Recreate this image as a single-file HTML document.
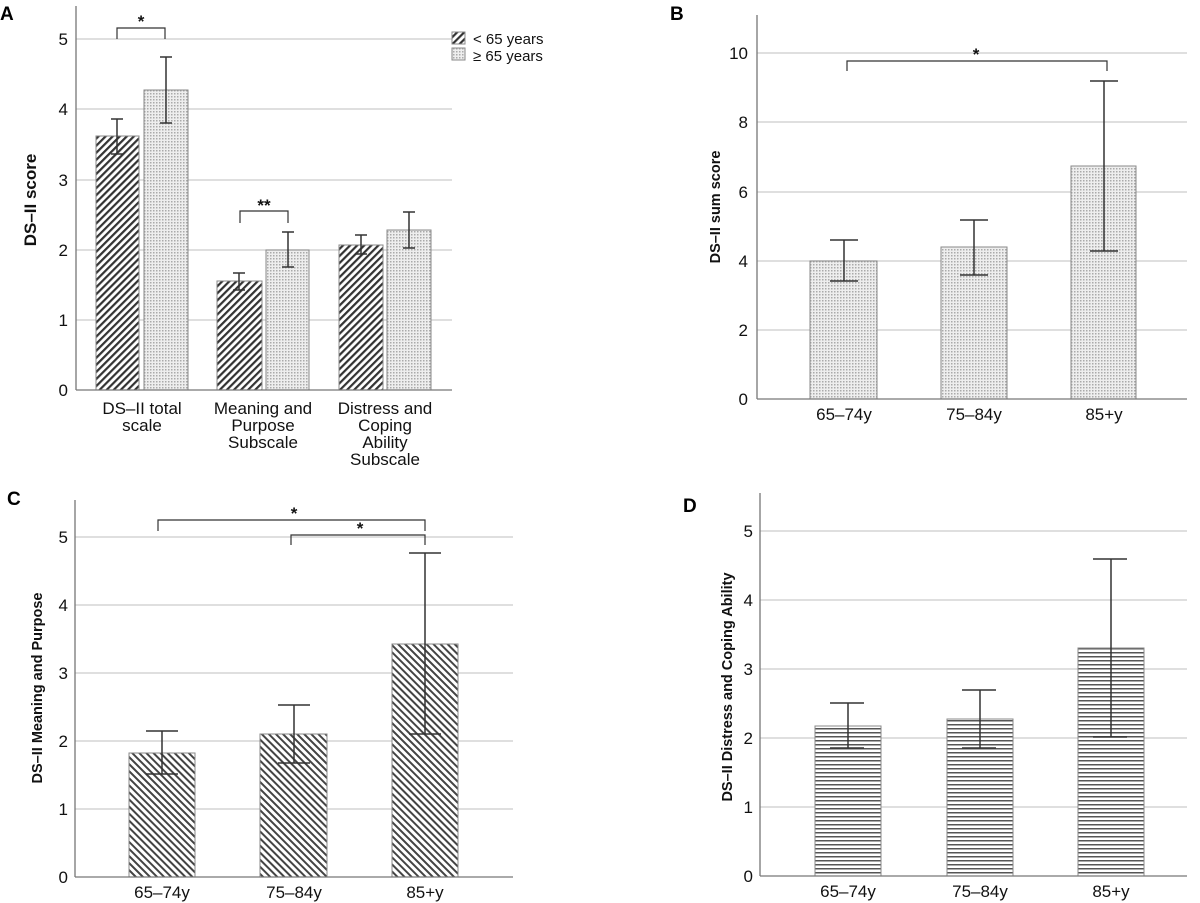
<!DOCTYPE html>
<html><head><meta charset="utf-8"><style>
body{margin:0;background:#fff}
svg{display:block;font-family:"Liberation Sans",sans-serif}
.t{font-size:17px;fill:#111}
.g{stroke:#ccc;stroke-width:1.2}
.ax{stroke:#777;stroke-width:1.3;fill:none}
.e{stroke:#333;stroke-width:1.5;fill:none}
.bar{stroke:#888;stroke-width:1}
.pl{font-weight:bold;font-size:19px;fill:#000}
.yt{font-weight:bold;font-size:14.5px;fill:#111}
</style></head><body>
<svg width="1200" height="903" viewBox="0 0 1200 903">
<defs>
<pattern id="dot" width="3" height="3" patternUnits="userSpaceOnUse"><rect width="3" height="3" fill="#eee"/><rect width="1.5" height="1.5" fill="#aaa"/></pattern>
<pattern id="fw" width="5" height="5" patternUnits="userSpaceOnUse" patternTransform="rotate(45)"><rect width="5" height="5" fill="#fff"/><rect width="2.2" height="5" fill="#333"/></pattern>
<pattern id="bw" width="5" height="5" patternUnits="userSpaceOnUse" patternTransform="rotate(-45)"><rect width="5" height="5" fill="#fff"/><rect width="2" height="5" fill="#444"/></pattern>
<pattern id="hz" width="4" height="4" patternUnits="userSpaceOnUse"><rect width="4" height="4" fill="#fff"/><rect width="4" height="1.5" fill="#555"/></pattern>
</defs>

<!-- Panel A -->
<text class="pl" x="0" y="20">A</text>
<g class="g"><line x1="76" x2="452" y1="39" y2="39"/><line x1="76" x2="452" y1="109" y2="109"/><line x1="76" x2="452" y1="180" y2="180"/><line x1="76" x2="452" y1="250" y2="250"/><line x1="76" x2="452" y1="320" y2="320"/></g>
<g class="t" text-anchor="end"><text x="68" y="396">0</text><text x="68" y="326">1</text><text x="68" y="256">2</text><text x="68" y="186">3</text><text x="68" y="115">4</text><text x="68" y="45">5</text></g>
<text class="yt" transform="translate(36,200) rotate(-90)" text-anchor="middle" style="font-size:17px">DS–II score</text>
<rect class="bar" x="96" y="136" width="43" height="254" fill="url(#fw)"/>
<rect class="bar" x="144" y="90" width="44" height="300" fill="url(#dot)"/>
<rect class="bar" x="217" y="281" width="45" height="109" fill="url(#fw)"/>
<rect class="bar" x="266" y="250" width="43" height="140" fill="url(#dot)"/>
<rect class="bar" x="339" y="245" width="44" height="145" fill="url(#fw)"/>
<rect class="bar" x="387" y="230" width="44" height="160" fill="url(#dot)"/>
<g class="e">
<path d="M117 119V154M111 119h12M111 154h12"/>
<path d="M166 57V123M160 57h12M160 123h12"/>
<path d="M239 273V290M233 273h12M233 290h12"/>
<path d="M288 232V267M282 232h12M282 267h12"/>
<path d="M361 235V254M355 235h12M355 254h12"/>
<path d="M409 212V248M403 212h12M403 248h12"/>
<path d="M117 39V28H165V39" stroke-width="1.2"/>
<path d="M240 223V211H288V223" stroke-width="1.2"/>
</g>
<text x="141" y="27" class="t" text-anchor="middle" font-weight="bold">*</text>
<text x="264" y="211" class="t" text-anchor="middle" font-weight="bold">**</text>
<line class="ax" x1="76" y1="6" x2="76" y2="390"/><line class="ax" x1="76" y1="390" x2="452" y2="390"/>
<rect x="452" y="32" width="13" height="12" fill="url(#fw)" stroke="#888"/>
<rect x="452" y="48" width="13" height="12" fill="url(#dot)" stroke="#888"/>
<text x="473" y="44" class="t" style="font-size:15px">&lt; 65 years</text>
<text x="473" y="61" class="t" style="font-size:15px">≥ 65 years</text>
<g class="t" text-anchor="middle">
<text x="142" y="414">DS–II total</text><text x="142" y="431">scale</text>
<text x="263" y="414">Meaning and</text><text x="263" y="431">Purpose</text><text x="263" y="448">Subscale</text>
<text x="385" y="414">Distress and</text><text x="385" y="431">Coping</text><text x="385" y="448">Ability</text><text x="385" y="465">Subscale</text>
</g>

<!-- Panel B -->
<text class="pl" x="670" y="20">B</text>
<g class="g"><line x1="757" x2="1187" y1="330" y2="330"/><line x1="757" x2="1187" y1="261" y2="261"/><line x1="757" x2="1187" y1="192" y2="192"/><line x1="757" x2="1187" y1="122" y2="122"/><line x1="757" x2="1187" y1="53" y2="53"/></g>
<g class="t" text-anchor="end"><text x="748" y="405">0</text><text x="748" y="336">2</text><text x="748" y="267">4</text><text x="748" y="198">6</text><text x="748" y="128">8</text><text x="748" y="59">10</text></g>
<text class="yt" transform="translate(720,207) rotate(-90)" text-anchor="middle">DS–II sum score</text>
<rect class="bar" x="810" y="261" width="67" height="138" fill="url(#dot)"/>
<rect class="bar" x="941" y="247" width="66" height="152" fill="url(#dot)"/>
<rect class="bar" x="1071" y="166" width="65" height="233" fill="url(#dot)"/>
<g class="e">
<path d="M844 240V281M830 240h28M830 281h28"/>
<path d="M974 220V275M960 220h28M960 275h28"/>
<path d="M1104 81V251M1090 81h28M1090 251h28"/>
<path d="M847 71V61H1107V71" stroke-width="1.2"/>
</g>
<text x="976" y="60" class="t" text-anchor="middle" font-weight="bold">*</text>
<line class="ax" x1="757" y1="15" x2="757" y2="399"/><line class="ax" x1="757" y1="399" x2="1187" y2="399"/>
<g class="t" text-anchor="middle"><text x="844" y="420">65–74y</text><text x="974" y="420">75–84y</text><text x="1104" y="420">85+y</text></g>

<!-- Panel C -->
<text class="pl" x="7" y="505">C</text>
<g class="g"><line x1="75" x2="513" y1="809" y2="809"/><line x1="75" x2="513" y1="741" y2="741"/><line x1="75" x2="513" y1="673" y2="673"/><line x1="75" x2="513" y1="605" y2="605"/><line x1="75" x2="513" y1="537" y2="537"/></g>
<g class="t" text-anchor="end"><text x="68" y="883">0</text><text x="68" y="815">1</text><text x="68" y="747">2</text><text x="68" y="679">3</text><text x="68" y="611">4</text><text x="68" y="543">5</text></g>
<text class="yt" transform="translate(42,688) rotate(-90)" text-anchor="middle">DS–II Meaning and Purpose</text>
<rect class="bar" x="129" y="753" width="66" height="124" fill="url(#bw)"/>
<rect class="bar" x="260" y="734" width="67" height="143" fill="url(#bw)"/>
<rect class="bar" x="392" y="644" width="66" height="233" fill="url(#bw)"/>
<g class="e">
<path d="M162 731V774M146 731h32M146 774h32"/>
<path d="M294 705V763M278 705h32M278 763h32"/>
<path d="M425 553V734M409 553h32M409 734h32"/>
<path d="M158 531V520H425V531" stroke-width="1.2"/>
<path d="M291 545V535H425V545" stroke-width="1.2"/>
</g>
<text x="294" y="519" class="t" text-anchor="middle" font-weight="bold">*</text>
<text x="360" y="534" class="t" text-anchor="middle" font-weight="bold">*</text>
<line class="ax" x1="75" y1="500" x2="75" y2="877"/><line class="ax" x1="75" y1="877" x2="513" y2="877"/>
<g class="t" text-anchor="middle"><text x="162" y="898">65–74y</text><text x="294" y="898">75–84y</text><text x="425" y="898">85+y</text></g>

<!-- Panel D -->
<text class="pl" x="683" y="512">D</text>
<g class="g"><line x1="760" x2="1187" y1="807" y2="807"/><line x1="760" x2="1187" y1="738" y2="738"/><line x1="760" x2="1187" y1="669" y2="669"/><line x1="760" x2="1187" y1="600" y2="600"/><line x1="760" x2="1187" y1="531" y2="531"/></g>
<g class="t" text-anchor="end"><text x="753" y="882">0</text><text x="753" y="813">1</text><text x="753" y="744">2</text><text x="753" y="675">3</text><text x="753" y="606">4</text><text x="753" y="537">5</text></g>
<text class="yt" transform="translate(732,687) rotate(-90)" text-anchor="middle">DS–II Distress and Coping Ability</text>
<rect class="bar" x="815" y="726" width="66" height="150" fill="url(#hz)"/>
<rect class="bar" x="947" y="719" width="66" height="157" fill="url(#hz)"/>
<rect class="bar" x="1078" y="648" width="66" height="228" fill="url(#hz)"/>
<g class="e">
<path d="M848 703V748M830 703h34M830 748h34"/>
<path d="M980 690V748M962 690h34M962 748h34"/>
<path d="M1111 559V737M1093 559h34M1093 737h34"/>
</g>
<line class="ax" x1="760" y1="493" x2="760" y2="876"/><line class="ax" x1="760" y1="876" x2="1187" y2="876"/>
<g class="t" text-anchor="middle"><text x="848" y="897">65–74y</text><text x="980" y="897">75–84y</text><text x="1111" y="897">85+y</text></g>
</svg>
</body></html>
